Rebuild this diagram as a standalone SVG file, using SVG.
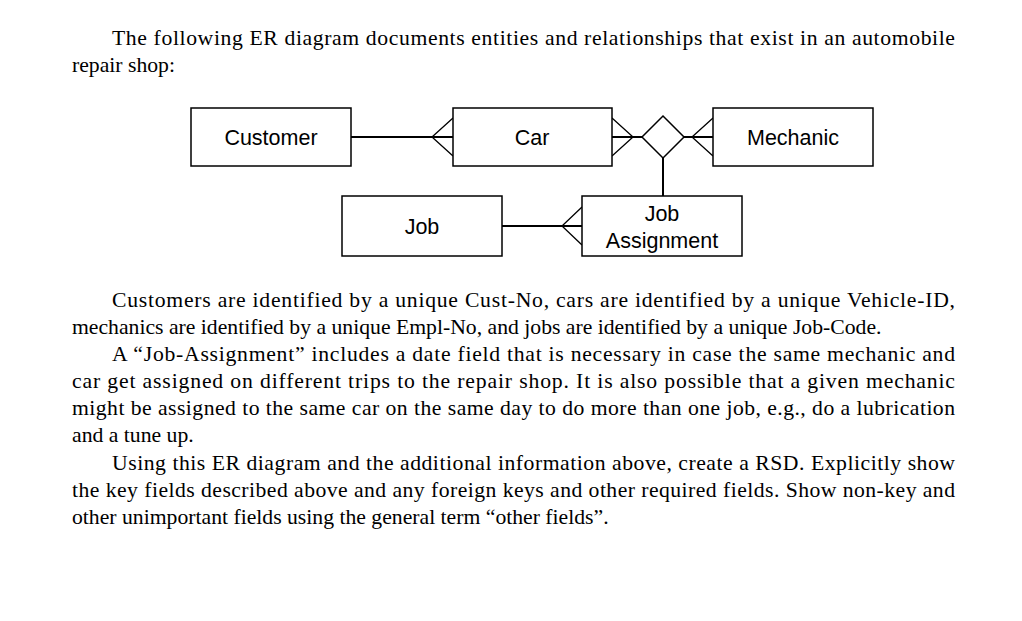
<svg xmlns="http://www.w3.org/2000/svg" width="1022" height="621" viewBox="0 0 1022 621">
<style>
.t{font-family:"Liberation Serif",serif;font-size:21.7px;fill:#000}
.n{font-family:"Liberation Sans",Arial,sans-serif;font-size:21.5px;fill:#000;text-anchor:middle}
.b{fill:#fff;stroke:#000;stroke-width:1.5}
.c{fill:none;stroke:#000;stroke-width:2}
.f{fill:none;stroke:#000;stroke-width:1.3}
</style>
<rect width="1022" height="621" fill="#fff"/>
<text class="t" x="112" y="45" textLength="843" lengthAdjust="spacing">The following ER diagram documents entities and relationships that exist in an automobile</text>
<text class="t" x="72" y="72">repair shop:</text>
<g id="connectors">
<path class="c" d="M351 137H453M612 137H643M684 137H713M663 158V196M502 226H582"/>
<path class="f" d="M453 118L432 137L453 156M612 118L633 137L612 156M713 118L692 137L713 156M582 207L562 226L582 245"/>
</g>
<g id="customer"><rect class="b" x="191" y="108" width="160" height="58"/><text class="n" x="271" y="145">Customer</text></g>
<g id="car"><rect class="b" x="453" y="108" width="159" height="58"/><text class="n" x="532" y="145">Car</text></g>
<g id="mechanic"><rect class="b" x="713" y="108" width="160" height="58"/><text class="n" x="793" y="145">Mechanic</text></g>
<g id="rel"><polygon class="b" points="663,116 684,137 663,158 642,137"/></g>
<g id="job"><rect class="b" x="342" y="196" width="160" height="60"/><text class="n" x="422" y="234">Job</text></g>
<g id="jobassign"><rect class="b" x="582" y="196" width="160" height="60"/><text class="n" x="662" y="221">Job</text><text class="n" x="662" y="248">Assignment</text></g>
<text class="t" x="112" y="307" textLength="843" lengthAdjust="spacing">Customers are identified by a unique Cust-No, cars are identified by a unique Vehicle-ID,</text>
<text class="t" x="72" y="334">mechanics are identified by a unique Empl-No, and jobs are identified by a unique Job-Code.</text>
<text class="t" x="112" y="361" textLength="843" lengthAdjust="spacing">A “Job-Assignment” includes a date field that is necessary in case the same mechanic and</text>
<text class="t" x="72" y="388" textLength="883" lengthAdjust="spacing">car get assigned on different trips to the repair shop. It is also possible that a given mechanic</text>
<text class="t" x="72" y="415" textLength="883" lengthAdjust="spacing">might be assigned to the same car on the same day to do more than one job, e.g., do a lubrication</text>
<text class="t" x="72" y="442">and a tune up.</text>
<text class="t" x="112" y="470" textLength="843" lengthAdjust="spacing">Using this ER diagram and the additional information above, create a RSD. Explicitly show</text>
<text class="t" x="72" y="497" textLength="883" lengthAdjust="spacing">the key fields described above and any foreign keys and other required fields. Show non-key and</text>
<text class="t" x="72" y="524">other unimportant fields using the general term “other fields”.</text>
</svg>
